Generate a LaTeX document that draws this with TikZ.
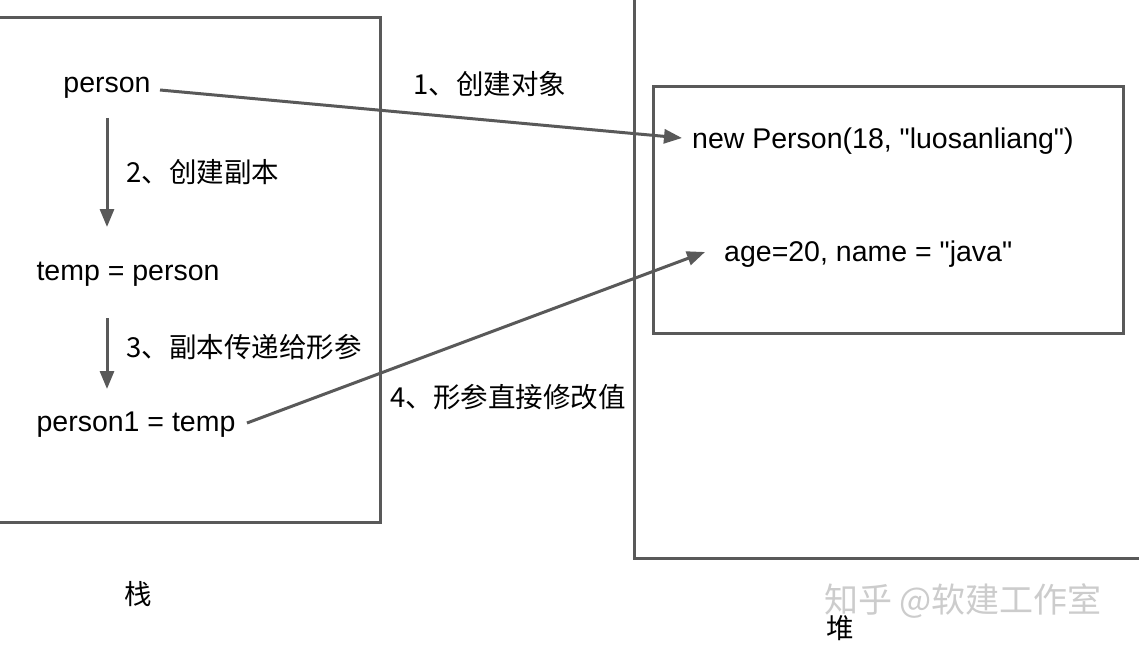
\documentclass[tikz,border=0pt]{standalone}
\usepackage{fontspec}
\setmainfont{Liberation Sans}[Ligatures=TeXOff]
\newfontfamily\cjk{Noto Sans CJK SC}
\usetikzlibrary{arrows.meta}
\definecolor{ln}{HTML}{595959}
\newcommand{\q}{\char34\relax}
\begin{document}
\begin{tikzpicture}[x=1pt,y=-1pt,
  txt/.style={font=\fontsize{28.5}{32}\selectfont,text=black,inner sep=0},
  ctxt/.style={font=\cjk\fontsize{27.5}{30}\selectfont,text=black,inner sep=0},
  box/.style={draw=ln,line width=3pt},
  arr/.style={draw=ln,line width=3pt,-{Triangle[length=18pt,width=14pt]}}]
\useasboundingbox (0,0) rectangle (1139,647);
\fill[white] (0,0) rectangle (1139,647);
\draw[box] (-10,18) rectangle (380,522);
\draw[box] (634,-10) -- (634,558) -- (1150,558);
\draw[box] (653,87) rectangle (1123,333);
\node[txt] (p) at (107,88) {person};
\node[txt] (t) at (128,274) {temp = person};
\node[txt] (p1) at (136,425) {person1 = temp};
\node[txt,anchor=west] (np) at (692,141) {new Person(18, \q luosanliang\q)};
\node[txt,anchor=west] (ag) at (724,254) {age=20, name = \q java\q};
\node[ctxt] (l2) at (203,172) {2、创建副本};
\node[ctxt] (l3) at (244,347) {3、副本传递给形参};
\node[ctxt] (l1) at (490,84) {1、创建对象};
\node[ctxt] (l4) at (508,397) {4、形参直接修改值};
\node[ctxt] (zh) at (138,594) {栈};
\node[ctxt] (du) at (840,628) {堆};
\node[ctxt,text=gray!40,font=\cjk\fontsize{34}{38}\selectfont] (wm) at (963,601) {知乎 @软建工作室};
\coordinate (a1) at (160,90); \coordinate (b1) at (682,138);
\draw[arr] (a1) -- (b1);
\coordinate (a2) at (107,118); \coordinate (b2) at (107,227);
\draw[arr] (a2) -- (b2);
\coordinate (a3) at (107,318); \coordinate (b3) at (107,389);
\draw[arr] (a3) -- (b3);
\coordinate (a4) at (247,423); \coordinate (b4) at (705,252);
\draw[arr] (a4) -- (b4);
\end{tikzpicture}
\end{document}
